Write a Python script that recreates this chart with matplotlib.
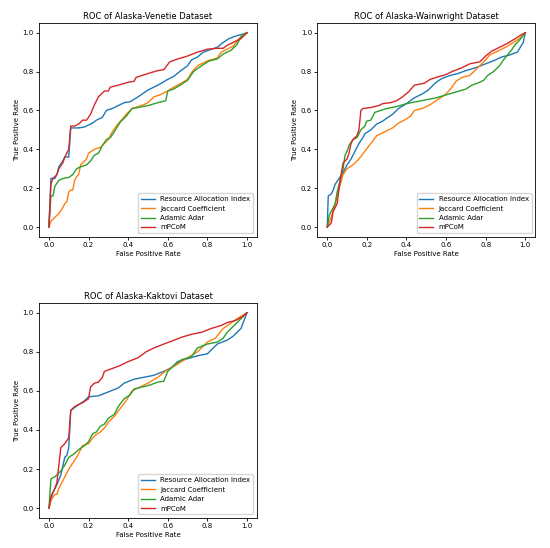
import matplotlib
matplotlib.use('Agg')
from matplotlib import pyplot as plt

labels = ['Resource Allocation Index', 'Jaccard Coefficient', 'Adamic Adar', 'mPCoM']
colors = ['#1f77b4', '#ff7f0e', '#2ca02c', '#d62728']

# Alaska-Venetie
venetie_ra_fpr = [0, 0.01, 0.03, 0.04, 0.05, 0.07, 0.08, 0.1, 0.11, 0.15, 0.18, 0.2, 0.22, 0.24, 0.27, 0.29, 0.32, 0.35, 0.38, 0.41, 0.45, 0.5, 0.55, 0.6, 0.63, 0.66, 0.7, 0.72, 0.75, 0.78, 0.82, 0.85, 0.88, 0.91, 0.95, 0.97, 1]
venetie_ra_tpr = [0, 0.25, 0.25, 0.27, 0.31, 0.34, 0.36, 0.36, 0.51, 0.51, 0.515, 0.525, 0.535, 0.55, 0.565, 0.6, 0.61, 0.625, 0.64, 0.645, 0.67, 0.705, 0.73, 0.76, 0.775, 0.8, 0.83, 0.86, 0.875, 0.9, 0.915, 0.925, 0.95, 0.97, 0.985, 0.99, 1]
venetie_jc_fpr = [0, 0.01, 0.03, 0.05, 0.07, 0.08, 0.09, 0.1, 0.11, 0.12, 0.13, 0.14, 0.15, 0.16, 0.17, 0.19, 0.2, 0.23, 0.26, 0.28, 0.3, 0.32, 0.34, 0.37, 0.39, 0.42, 0.45, 0.48, 0.5, 0.53, 0.56, 0.58, 0.6, 0.63, 0.66, 0.7, 0.72, 0.75, 0.8, 0.85, 0.87, 0.9, 0.93, 0.96, 1]
venetie_jc_tpr = [0, 0.03, 0.05, 0.07, 0.1, 0.12, 0.13, 0.18, 0.19, 0.19, 0.24, 0.26, 0.27, 0.32, 0.33, 0.35, 0.38, 0.4, 0.41, 0.43, 0.45, 0.49, 0.52, 0.555, 0.58, 0.61, 0.62, 0.63, 0.64, 0.67, 0.68, 0.69, 0.7, 0.72, 0.735, 0.76, 0.795, 0.83, 0.855, 0.87, 0.9, 0.915, 0.93, 0.97, 1]
venetie_aa_fpr = [0, 0.01, 0.02, 0.03, 0.05, 0.07, 0.1, 0.12, 0.14, 0.16, 0.19, 0.21, 0.23, 0.25, 0.27, 0.29, 0.31, 0.33, 0.36, 0.39, 0.42, 0.45, 0.5, 0.55, 0.59, 0.6, 0.63, 0.67, 0.7, 0.73, 0.77, 0.81, 0.85, 0.88, 0.92, 0.95, 0.97, 1]
venetie_aa_tpr = [0, 0.16, 0.16, 0.21, 0.24, 0.25, 0.255, 0.27, 0.3, 0.31, 0.32, 0.34, 0.37, 0.38, 0.42, 0.45, 0.46, 0.49, 0.54, 0.57, 0.61, 0.615, 0.625, 0.64, 0.65, 0.7, 0.71, 0.735, 0.755, 0.8, 0.83, 0.855, 0.865, 0.89, 0.91, 0.94, 0.98, 1]
venetie_mp_fpr = [0, 0.01, 0.02, 0.04, 0.05, 0.07, 0.08, 0.09, 0.1, 0.11, 0.13, 0.15, 0.17, 0.19, 0.21, 0.23, 0.25, 0.28, 0.3, 0.31, 0.35, 0.4, 0.43, 0.44, 0.5, 0.55, 0.58, 0.61, 0.65, 0.7, 0.75, 0.8, 0.85, 0.88, 0.9, 0.93, 0.97, 1]
venetie_mp_tpr = [0, 0.22, 0.25, 0.27, 0.3, 0.33, 0.36, 0.38, 0.4, 0.52, 0.52, 0.53, 0.55, 0.55, 0.58, 0.63, 0.67, 0.7, 0.7, 0.72, 0.73, 0.745, 0.75, 0.77, 0.79, 0.805, 0.81, 0.85, 0.865, 0.88, 0.9, 0.915, 0.92, 0.92, 0.935, 0.95, 0.97, 1]

# Alaska-Wainwright
wain_ra_fpr = [0, 0.005, 0.02, 0.03, 0.04, 0.06, 0.08, 0.1, 0.12, 0.14, 0.16, 0.18, 0.19, 0.22, 0.25, 0.28, 0.3, 0.33, 0.36, 0.4, 0.44, 0.48, 0.51, 0.55, 0.58, 0.62, 0.66, 0.7, 0.75, 0.8, 0.85, 0.88, 0.92, 0.96, 0.99, 1]
wain_ra_tpr = [0, 0.16, 0.17, 0.19, 0.22, 0.25, 0.28, 0.32, 0.35, 0.39, 0.43, 0.46, 0.48, 0.5, 0.53, 0.545, 0.56, 0.58, 0.61, 0.635, 0.665, 0.685, 0.705, 0.745, 0.765, 0.78, 0.79, 0.805, 0.82, 0.84, 0.86, 0.875, 0.885, 0.9, 0.95, 1]
wain_jc_fpr = [0, 0.02, 0.04, 0.06, 0.08, 0.1, 0.13, 0.16, 0.19, 0.22, 0.25, 0.29, 0.33, 0.36, 0.39, 0.42, 0.44, 0.48, 0.52, 0.55, 0.6, 0.63, 0.65, 0.68, 0.72, 0.75, 0.78, 0.8, 0.82, 0.85, 0.88, 0.91, 0.94, 0.97, 1]
wain_jc_tpr = [0, 0.05, 0.12, 0.2, 0.27, 0.3, 0.32, 0.35, 0.39, 0.43, 0.47, 0.49, 0.51, 0.535, 0.55, 0.57, 0.6, 0.61, 0.63, 0.65, 0.685, 0.72, 0.75, 0.77, 0.78, 0.81, 0.84, 0.86, 0.885, 0.9, 0.915, 0.93, 0.95, 0.97, 1]
wain_aa_fpr = [0, 0.01, 0.02, 0.04, 0.05, 0.06, 0.07, 0.08, 0.09, 0.1, 0.11, 0.13, 0.15, 0.17, 0.19, 0.2, 0.22, 0.24, 0.27, 0.3, 0.35, 0.4, 0.45, 0.5, 0.55, 0.6, 0.65, 0.7, 0.73, 0.77, 0.79, 0.81, 0.84, 0.87, 0.89, 0.91, 0.93, 0.95, 0.97, 1]
wain_aa_tpr = [0, 0.06, 0.08, 0.12, 0.18, 0.22, 0.26, 0.3, 0.37, 0.39, 0.42, 0.45, 0.46, 0.5, 0.52, 0.545, 0.55, 0.59, 0.6, 0.61, 0.62, 0.635, 0.645, 0.655, 0.665, 0.68, 0.695, 0.71, 0.73, 0.745, 0.755, 0.78, 0.8, 0.83, 0.86, 0.885, 0.91, 0.94, 0.96, 1]
wain_mp_fpr = [0, 0.02, 0.03, 0.05, 0.06, 0.07, 0.08, 0.1, 0.11, 0.12, 0.13, 0.15, 0.16, 0.17, 0.18, 0.22, 0.26, 0.28, 0.32, 0.35, 0.38, 0.41, 0.44, 0.49, 0.52, 0.55, 0.6, 0.63, 0.68, 0.72, 0.77, 0.8, 0.83, 0.85, 0.88, 0.91, 0.95, 0.98, 1]
wain_mp_tpr = [0, 0.02, 0.08, 0.12, 0.2, 0.27, 0.33, 0.35, 0.38, 0.43, 0.45, 0.47, 0.5, 0.6, 0.61, 0.615, 0.625, 0.635, 0.64, 0.65, 0.67, 0.695, 0.73, 0.74, 0.76, 0.77, 0.785, 0.8, 0.82, 0.84, 0.85, 0.88, 0.905, 0.915, 0.93, 0.945, 0.97, 0.99, 1]

# Alaska-Kaktovi
kak_ra_fpr = [0, 0.02, 0.04, 0.06, 0.08, 0.09, 0.1, 0.11, 0.13, 0.15, 0.18, 0.2, 0.25, 0.3, 0.35, 0.38, 0.43, 0.48, 0.53, 0.58, 0.62, 0.65, 0.7, 0.75, 0.8, 0.83, 0.85, 0.9, 0.93, 0.97, 1]
kak_ra_tpr = [0, 0.08, 0.12, 0.17, 0.26, 0.27, 0.31, 0.5, 0.515, 0.53, 0.55, 0.57, 0.575, 0.595, 0.615, 0.64, 0.66, 0.67, 0.68, 0.7, 0.72, 0.75, 0.765, 0.78, 0.79, 0.82, 0.84, 0.86, 0.88, 0.92, 1]
kak_jc_fpr = [0, 0.01, 0.03, 0.04, 0.05, 0.07, 0.09, 0.1, 0.12, 0.14, 0.16, 0.17, 0.2, 0.23, 0.26, 0.28, 0.3, 0.33, 0.36, 0.39, 0.42, 0.46, 0.5, 0.55, 0.6, 0.63, 0.67, 0.7, 0.75, 0.8, 0.84, 0.88, 0.91, 0.95, 1]
kak_jc_tpr = [0, 0.04, 0.07, 0.07, 0.1, 0.14, 0.18, 0.2, 0.23, 0.26, 0.3, 0.32, 0.33, 0.37, 0.39, 0.41, 0.44, 0.47, 0.51, 0.55, 0.6, 0.62, 0.64, 0.67, 0.71, 0.725, 0.75, 0.77, 0.8, 0.85, 0.87, 0.92, 0.94, 0.97, 1]
kak_aa_fpr = [0, 0.01, 0.03, 0.04, 0.06, 0.08, 0.1, 0.13, 0.15, 0.18, 0.2, 0.22, 0.24, 0.26, 0.28, 0.3, 0.33, 0.35, 0.38, 0.41, 0.43, 0.47, 0.51, 0.55, 0.58, 0.6, 0.63, 0.67, 0.72, 0.75, 0.8, 0.85, 0.88, 0.9, 0.93, 0.96, 1]
kak_aa_tpr = [0, 0.15, 0.16, 0.17, 0.19, 0.22, 0.26, 0.28, 0.3, 0.32, 0.34, 0.38, 0.39, 0.42, 0.43, 0.46, 0.48, 0.52, 0.56, 0.58, 0.61, 0.62, 0.63, 0.645, 0.65, 0.7, 0.73, 0.76, 0.775, 0.82, 0.84, 0.85, 0.87, 0.9, 0.93, 0.96, 1]
kak_mp_fpr = [0, 0.01, 0.03, 0.04, 0.05, 0.06, 0.08, 0.1, 0.11, 0.13, 0.15, 0.17, 0.2, 0.21, 0.23, 0.25, 0.27, 0.28, 0.32, 0.36, 0.4, 0.45, 0.49, 0.53, 0.58, 0.62, 0.67, 0.72, 0.77, 0.82, 0.87, 0.9, 0.94, 0.97, 1]
kak_mp_tpr = [0, 0.06, 0.1, 0.13, 0.22, 0.31, 0.33, 0.36, 0.5, 0.52, 0.53, 0.54, 0.56, 0.62, 0.64, 0.645, 0.67, 0.7, 0.715, 0.73, 0.75, 0.77, 0.8, 0.82, 0.84, 0.855, 0.875, 0.89, 0.9, 0.92, 0.935, 0.95, 0.96, 0.975, 1]

datasets = [
    ('ROC of Alaska-Venetie Dataset',
     [(venetie_ra_fpr, venetie_ra_tpr), (venetie_jc_fpr, venetie_jc_tpr),
      (venetie_aa_fpr, venetie_aa_tpr), (venetie_mp_fpr, venetie_mp_tpr)]),
    ('ROC of Alaska-Wainwright Dataset',
     [(wain_ra_fpr, wain_ra_tpr), (wain_jc_fpr, wain_jc_tpr),
      (wain_aa_fpr, wain_aa_tpr), (wain_mp_fpr, wain_mp_tpr)]),
    ('ROC of Alaska-Kaktovi Dataset',
     [(kak_ra_fpr, kak_ra_tpr), (kak_jc_fpr, kak_jc_tpr),
      (kak_aa_fpr, kak_aa_tpr), (kak_mp_fpr, kak_mp_tpr)]),
]

# axes boxes in figure fractions: left, bottom, width, height
boxes = [(0.071, 0.568, 0.396, 0.390),
         (0.577, 0.568, 0.396, 0.390),
         (0.071, 0.055, 0.396, 0.392)]

fig = plt.figure(figsize=(5.5, 5.48), dpi=100)
for (title, curves), box in zip(datasets, boxes):
    axis = fig.add_axes(box)
    for (fpr, tpr), label, color in zip(curves, labels, colors):
        axis.plot(fpr, tpr, color=color, label=label, linewidth=1.0)
    axis.set_title(title, fontsize=6.0, pad=3)
    axis.set_xlabel('False Positive Rate', fontsize=5.0, labelpad=2)
    axis.set_ylabel('True Positive Rate', fontsize=5.0, labelpad=2)
    axis.set_xticks([0, 0.2, 0.4, 0.6, 0.8, 1.0])
    axis.set_yticks([0, 0.2, 0.4, 0.6, 0.8, 1.0])
    axis.tick_params(labelsize=5.0, length=2, width=0.6, pad=1.8)
    for spine in axis.spines.values():
        spine.set_linewidth(0.6)
    axis.legend(loc='lower right', fontsize=5.0, handlelength=2.0, borderpad=0.4,
                labelspacing=0.5, frameon=True, fancybox=True)

fig.savefig('out.png', dpi=100)
